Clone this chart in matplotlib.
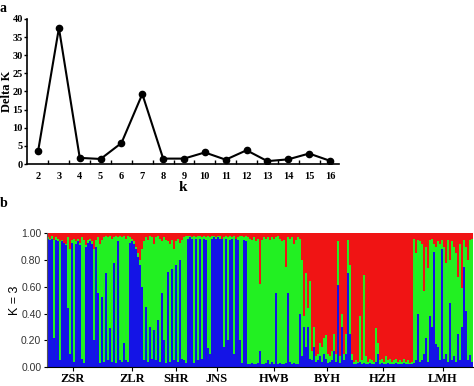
import numpy as np
import matplotlib
matplotlib.use("Agg")
import matplotlib.pyplot as plt

# panel a: Evanno delta K
k_values = [2, 3, 4, 5, 6, 7, 8, 9, 10, 11, 12, 13, 14, 15, 16]
delta_k = [3.5, 37.5, 1.7, 1.4, 5.8, 19.3, 1.5, 1.5, 3.2, 1.2, 3.8, 0.8, 1.3, 2.9, 0.9]

# panel b: STRUCTURE K = 3, per population (blue and red shares, green is the rest)
populations = ["ZSR", "ZLR", "SHR", "JNS", "HWB", "BYH", "HZH", "LMH"]

zsr_blue = [0.96, 0.95, 0.96, 0.22, 0.95, 0.94, 0.05, 0.94, 0.93, 0.91, 0.44, 0.10, 0.93,
            0.04, 0.92, 0.94, 0.91, 0.06, 0.03, 0.90, 0.93, 0.94, 0.92, 0.20, 0.90, 0.55]
zsr_red = [0.03, 0.04, 0.02, 0.05, 0.03, 0.04, 0.06, 0.05, 0.07, 0.08, 0.03, 0.12, 0.05,
           0.04, 0.06, 0.04, 0.07, 0.03, 0.05, 0.09, 0.05, 0.04, 0.06, 0.12, 0.05, 0.03]

zlr_blue = [0.03, 0.52, 0.04, 0.70, 0.05, 0.29, 0.04, 0.78, 0.03, 0.94, 0.05, 0.04, 0.18,
            0.05, 0.04, 0.93, 0.94, 0.92, 0.88, 0.82, 0.76, 0.60, 0.05, 0.45, 0.04, 0.30,
            0.06, 0.28, 0.05, 0.35, 0.04, 0.55, 0.20]
zlr_red = [0.08, 0.05, 0.03, 0.02, 0.03, 0.02, 0.04, 0.03, 0.02, 0.03, 0.02, 0.03, 0.02,
           0.04, 0.02, 0.03, 0.04, 0.06, 0.10, 0.15, 0.20, 0.12, 0.06, 0.03, 0.05, 0.02,
           0.03, 0.08, 0.03, 0.02, 0.04, 0.06, 0.03]

shr_blue = [0.03, 0.71, 0.04, 0.73, 0.05, 0.76, 0.04, 0.80, 0.06, 0.05, 0.03]
shr_red = [0.05, 0.06, 0.08, 0.05, 0.12, 0.06, 0.04, 0.07, 0.05, 0.03, 0.02]

jns_blue = [0.96, 0.97, 0.96, 0.03, 0.96, 0.05, 0.96, 0.06, 0.96, 0.95, 0.14, 0.10, 0.96,
            0.97, 0.96, 0.97, 0.96, 0.96, 0.15, 0.96, 0.20, 0.95, 0.96, 0.10, 0.96, 0.95,
            0.20, 0.03, 0.95, 0.94]
jns_red = [0.02, 0.02, 0.03, 0.02, 0.03, 0.02, 0.02, 0.03, 0.02, 0.03, 0.02, 0.03, 0.02,
           0.02, 0.03, 0.02, 0.02, 0.04, 0.03, 0.02, 0.03, 0.02, 0.03, 0.02, 0.04, 0.03,
           0.02, 0.02, 0.03, 0.02]

hwb_blue = [0.02, 0.02, 0.03, 0.02, 0.02, 0.03, 0.12, 0.02, 0.02, 0.03, 0.05, 0.02, 0.04,
            0.02, 0.55, 0.02, 0.03, 0.02, 0.02, 0.03, 0.55, 0.04, 0.02, 0.03, 0.02, 0.02, 0.40]
hwb_red = [0.03, 0.04, 0.05, 0.03, 0.06, 0.04, 0.38, 0.05, 0.03, 0.04, 0.03, 0.05, 0.03,
           0.04, 0.03, 0.02, 0.04, 0.06, 0.05, 0.25, 0.03, 0.04, 0.03, 0.08, 0.05, 0.03, 0.04]

byh_blue = [0.08, 0.30, 0.15, 0.30, 0.06, 0.05, 0.15, 0.04, 0.05, 0.08, 0.04, 0.10, 0.06,
            0.03, 0.04, 0.05, 0.12, 0.04, 0.61, 0.03, 0.30, 0.05, 0.10, 0.70, 0.25, 0.05]
byh_red = [0.20, 0.62, 0.30, 0.56, 0.36, 0.88, 0.70, 0.92, 0.90, 0.82, 0.85, 0.78, 0.76,
           0.90, 0.92, 0.88, 0.75, 0.90, 0.06, 0.92, 0.60, 0.90, 0.75, 0.05, 0.24, 0.90]

hzh_blue = [0.02, 0.02, 0.03, 0.04, 0.02, 0.03, 0.02, 0.02, 0.03, 0.02, 0.02, 0.04, 0.10,
            0.02, 0.03, 0.02, 0.02, 0.03, 0.02, 0.02, 0.02, 0.03, 0.02, 0.02, 0.02, 0.03,
            0.02, 0.02, 0.02, 0.02]
hzh_red = [0.96, 0.95, 0.96, 0.62, 0.95, 0.31, 0.92, 0.96, 0.94, 0.95, 0.96, 0.71, 0.82,
           0.95, 0.94, 0.96, 0.92, 0.95, 0.94, 0.96, 0.95, 0.94, 0.96, 0.95, 0.96, 0.94,
           0.96, 0.95, 0.97, 0.96]

lmh_blue = [0.03, 0.05, 0.40, 0.04, 0.05, 0.10, 0.22, 0.04, 0.38, 0.30, 0.86, 0.17, 0.15,
            0.05, 0.88, 0.06, 0.10, 0.04, 0.48, 0.05, 0.08, 0.04, 0.25, 0.05, 0.30, 0.75,
            0.42, 0.05, 0.09, 0.04]
lmh_red = [0.04, 0.15, 0.05, 0.06, 0.08, 0.43, 0.10, 0.26, 0.05, 0.04, 0.08, 0.10, 0.06,
           0.08, 0.05, 0.10, 0.22, 0.05, 0.20, 0.06, 0.10, 0.15, 0.33, 0.08, 0.41, 0.05,
           0.10, 0.20, 0.05, 0.04]

blue_all = [zsr_blue, zlr_blue, shr_blue, jns_blue, hwb_blue, byh_blue, hzh_blue, lmh_blue]
red_all = [zsr_red, zlr_red, shr_red, jns_red, hwb_red, byh_red, hzh_red, lmh_red]

BLUE = "#1414e6"
GREEN = "#22f022"
RED = "#f01414"
SERIF = "Liberation Serif"

fig = plt.figure(figsize=(4.74, 3.86), dpi=100)

# ---- panel a
ax1 = fig.add_axes([0.057, 0.575, 0.658, 0.376])
ax1.plot(k_values, delta_k, color="black", lw=1.5, marker="o", ms=4.5)
ax1.set_xlim(1.47, 16.43)
ax1.set_ylim(0, 40)
ax1.set_yticks(range(0, 41, 5))
ax1.set_xticks(k_values)
ax1.set_xticks(np.arange(2.5, 16, 1), minor=True)
ax1.tick_params(axis="x", which="major", length=0, pad=6)
ax1.tick_params(axis="x", which="minor", length=3, direction="in", width=1)
ax1.tick_params(axis="y", length=2, width=1, pad=1)
for lab in ax1.get_xticklabels() + ax1.get_yticklabels():
    lab.set_fontfamily(SERIF)
    lab.set_fontweight("bold")
    lab.set_fontsize(7.5)
for s in ["top", "right"]:
    ax1.spines[s].set_visible(False)
ax1.spines["left"].set_linewidth(1.2)
ax1.spines["bottom"].set_linewidth(1.2)
ax1.set_ylabel("Delta K", family=SERIF, weight="bold", fontsize=9)
ax1.yaxis.set_label_coords(-0.045, 0.5)
ax1.set_xlabel("k", family=SERIF, weight="bold", fontsize=11, labelpad=0)

fig.text(0.0, 0.995, "a", family=SERIF, weight="bold", fontsize=10, va="top")
fig.text(0.0, 0.49, "b", family=SERIF, weight="bold", fontsize=10, va="top")

# ---- panel b
ax2 = fig.add_axes([0.099, 0.049, 0.899, 0.347])
start = 0
centers = []
for blue, red in zip(blue_all, red_all):
    blue = np.array(blue)
    red = np.array(red)
    green = 1 - blue - red
    x = np.arange(start, start + len(blue))
    ax2.bar(x, blue, width=1, align="edge", color=BLUE, lw=0, antialiased=False)
    ax2.bar(x, green, bottom=blue, width=1, align="edge", color=GREEN, lw=0, antialiased=False)
    ax2.bar(x, red, bottom=blue + green, width=1, align="edge", color=RED, lw=0, antialiased=False)
    centers.append(start + len(blue) / 2)
    start += len(blue)

ax2.set_xlim(0, start)
ax2.set_ylim(0, 1)
ax2.set_yticks(np.arange(0, 1.01, 0.2))
ax2.set_yticklabels(["%.2f" % v for v in np.arange(0, 1.01, 0.2)],
                    family="Liberation Sans", fontsize=7.5, color="#333333")
ax2.set_xticks(centers)
ax2.set_xticklabels(populations, family=SERIF, weight="bold", fontsize=9)
ax2.tick_params(axis="x", length=3, width=0.8, pad=1)
ax2.tick_params(axis="y", length=2, width=0.8, pad=2)
for s in ["top", "right"]:
    ax2.spines[s].set_visible(False)
ax2.spines["left"].set_color("#555555")
ax2.set_ylabel("K = 3", family="Liberation Sans", fontsize=9)
ax2.yaxis.set_label_coords(-0.06, 0.5)

fig.savefig("out.png", dpi=100)
